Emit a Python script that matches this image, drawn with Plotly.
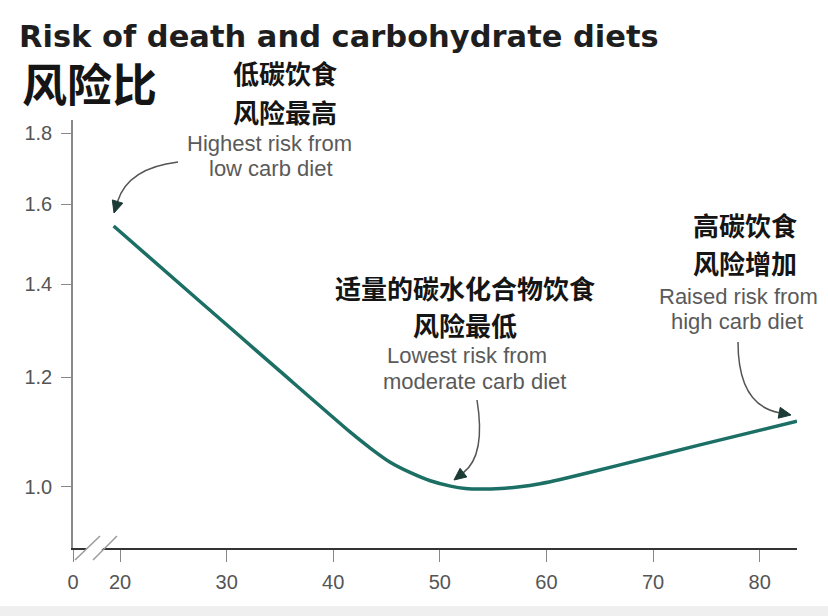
import plotly.graph_objects as go

# ---- data ----
carb_pct = [19.4, 27.5, 35.0, 41.6, 43.5, 45.3, 47.2, 49.1, 51.0, 52.4,
            53.8, 55.7, 57.5, 59.4, 61.3, 66.9, 74.4, 83.5]
hazard_ratio = [1.543, 1.361, 1.212, 1.095, 1.066, 1.042, 1.024, 1.010, 1.001, 0.997,
                0.996, 0.997, 1.000, 1.005, 1.012, 1.037, 1.072, 1.115]

x_tickvals = [15.6, 20, 30, 40, 50, 60, 70, 80]
x_ticktext = ["0", "20", "30", "40", "50", "60", "70", "80"]
y_tickvals = [1.0, 1.2, 1.4, 1.6, 1.8]
y_ticktext = ["1.0", "1.2", "1.4", "1.6", "1.8"]

title_en = "Risk of death and carbohydrate diets"
title_cn = "风险比"
notes = [
    # (cjk lines, english lines)
    (["低碳饮食", "风险最高"], ["Highest risk from", "low carb diet"]),
    (["适量的碳水化合物饮食", "风险最低"], ["Lowest risk from", "moderate carb diet"]),
    (["高碳饮食", "风险增加"], ["Raised risk from", "high carb diet"]),
]

# ---- layout geometry (pixels) ----
W, H = 828, 616
L, R, T, B = 73, 797, 120, 548
PW, PH = R - L, B - T


def px(x):
    return (x - L) / PW


def py(y):
    return (B - y) / PH


def pt(x, y):
    return f"{px(x):.5f},{py(y):.5f}"


fig = go.Figure()
fig.add_trace(go.Scatter(
    x=carb_pct, y=hazard_ratio, mode="lines",
    line=dict(color="#1b6f64", width=3.5, shape="spline", smoothing=0.6),
    hoverinfo="skip", showlegend=False,
))

latin = "Liberation Sans, Arial, sans-serif"
cjk = "Noto Sans CJK SC, sans-serif"

annotations = []
annotations.append(dict(text=title_en, x=px(17), y=py(36), xref="paper", yref="paper",
                        xanchor="left", yanchor="middle", showarrow=False,
                        font=dict(family="DejaVu Sans", size=30.5, color="#1e1e1e", weight="bold")))
annotations.append(dict(text=title_cn, x=px(89), y=py(83), xref="paper", yref="paper",
                        xanchor="center", yanchor="middle", showarrow=False,
                        font=dict(family=cjk, size=45, color="#151515", weight="bold")))

# positions of note text lines: (x, y) centres
note_pos = [
    ([(285, 72), (285, 111)], [(269, 143), (271, 168)]),
    ([(465, 287), (465, 324)], [(467, 355), (474, 381)]),
    ([(745, 224), (745, 262)], [(738, 296), (737, 321)]),
]
for (cj, en), (cjp, enp) in zip(notes, note_pos):
    for t, (x, y) in zip(cj, cjp):
        annotations.append(dict(text=t, x=px(x), y=py(y), xref="paper", yref="paper",
                                xanchor="center", yanchor="middle", showarrow=False,
                                font=dict(family=cjk, size=26, color="#151515", weight="bold")))
    for t, (x, y) in zip(en, enp):
        annotations.append(dict(text=t, x=px(x), y=py(y), xref="paper", yref="paper",
                                xanchor="center", yanchor="middle", showarrow=False,
                                font=dict(family=latin, size=22, color="#5a5a5a")))

shapes = []
# curved arrows (start, control, tip) in pixels
arrows = [
    ((178, 162), (128, 168), (114, 213)),
    ((477, 400), (486, 455), (454, 480)),
    ((738, 342), (738, 405), (791, 415)),
]
for (sx, sy), (cx, cy), (tx, ty) in arrows:
    dx, dy = tx - cx, ty - cy
    n = (dx * dx + dy * dy) ** 0.5
    dx, dy = dx / n, dy / n
    bx, by = tx - 12 * dx, ty - 12 * dy
    shapes.append(dict(type="path", xref="paper", yref="paper",
                       path=f"M {pt(sx, sy)} Q {pt(cx, cy)} {pt(bx, by)}",
                       line=dict(color="#555555", width=1.5)))
    p1 = (bx - 5.5 * dy, by + 5.5 * dx)
    p2 = (bx + 5.5 * dy, by - 5.5 * dx)
    shapes.append(dict(type="path", xref="paper", yref="paper",
                       path=f"M {pt(tx, ty)} L {pt(*p1)} L {pt(*p2)} Z",
                       fillcolor="#1c3a36", line=dict(color="#1c3a36", width=1)))

# axis break symbol
shapes.append(dict(type="path", xref="paper", yref="paper",
                   path=f"M {pt(76, 559)} L {pt(100, 536)} L {pt(116, 536)} L {pt(92, 559)} Z",
                   fillcolor="white", line=dict(width=0)))
for (x0, y0, x1, y1) in [(75, 560, 100, 536), (93, 560, 117, 536)]:
    shapes.append(dict(type="line", xref="paper", yref="paper",
                       x0=px(x0), y0=py(y0), x1=px(x1), y1=py(y1),
                       line=dict(color="#9a9a9a", width=1.5)))
# light band at bottom of image
shapes.append(dict(type="rect", xref="paper", yref="paper",
                   x0=px(0), x1=px(W), y0=py(616), y1=py(606),
                   fillcolor="#efefef", line=dict(width=0), layer="below"))

fig.update_layout(
    width=W, height=H,
    margin=dict(l=L, r=W - R, t=T, b=H - B, pad=0),
    paper_bgcolor="white", plot_bgcolor="white",
    showlegend=False,
    annotations=annotations,
    shapes=shapes,
    xaxis=dict(range=[15.59, 83.5], tickvals=x_tickvals, ticktext=x_ticktext,
               showline=True, linecolor="#333333", linewidth=2,
               ticks="outside", ticklen=12, tickcolor="#888888", tickwidth=1,
               showgrid=False, zeroline=False, ticklabelstandoff=3,
               tickfont=dict(family=latin, size=20, color="#555555"), fixedrange=True),
    yaxis=dict(type="log", range=[-0.0443, 0.2650], tickvals=y_tickvals, ticktext=y_ticktext,
               showline=True, linecolor="#888888", linewidth=1.5,
               ticks="outside", ticklen=10, tickcolor="#888888", tickwidth=1,
               showgrid=False, zeroline=False, ticklabelstandoff=5,
               tickfont=dict(family=latin, size=20, color="#555555"), fixedrange=True),
)

fig.write_html("out.html")
